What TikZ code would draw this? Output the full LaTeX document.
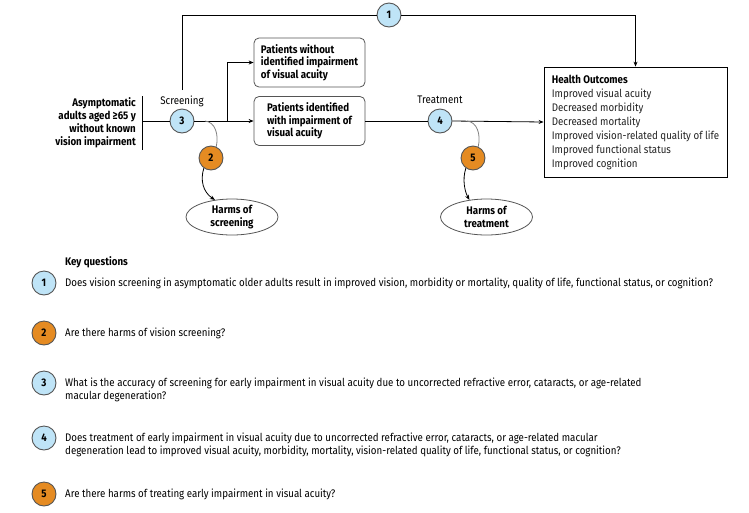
\documentclass[tikz,border=0pt]{standalone}
\usepackage{fontspec}
\setmainfont{Fira Sans}[FakeStretch=0.885]
\usetikzlibrary{arrows.meta,shapes.geometric}
\definecolor{kqblue}{HTML}{BFE4F7}
\definecolor{kqorange}{HTML}{E58B22}
\definecolor{bordergray}{HTML}{555555}
\definecolor{txtgray}{HTML}{222222}
\begin{document}
\begin{tikzpicture}[x=1pt,y=-1pt,
  font=\fontsize{11}{13}\selectfont,
  kq/.style={circle,draw=bordergray,line width=0.9pt,minimum size=24pt,inner sep=0pt,font=\fontsize{11}{12}\selectfont\bfseries},
  kqb/.style={kq,fill=kqblue},
  kqo/.style={kq,fill=kqorange},
  rbox/.style={draw=bordergray,rounded corners=5pt,line width=0.8pt,minimum width=111pt,minimum height=49pt,align=left,inner sep=0pt,font=\fontsize{11}{12.5}\selectfont\bfseries},
  harm/.style={ellipse,draw=bordergray,line width=0.8pt,minimum width=92pt,minimum height=36pt,inner sep=0pt,align=center,font=\fontsize{11}{12.5}\selectfont\bfseries},
  arr/.style={-{Stealth[length=5pt,width=4pt]}},
  conn/.style={line width=0.8pt},
  curvy/.style={draw=gray,line width=0.8pt},
  qtext/.style={anchor=west,align=left,inner sep=0pt,font=\fontsize{11}{13}\selectfont},
  lbl/.style={inner sep=0pt,font=\fontsize{11}{12}\selectfont}
]
\useasboundingbox (0,0) rectangle (749,512);

% nodes
\node[anchor=east,align=right,inner sep=0pt,font=\fontsize{11}{13}\selectfont\bfseries] (pop) at (136,122.5) {Asymptomatic\\adults aged ≥65 y\\without known\\vision impairment};
\node[kqb] (c3) at (182,121) {3};
\node[lbl] (scr) at (182,101) {Screening};
\node[kqo] (c2) at (211,158) {2};
\node[kqb] (c1) at (389,15) {1};
\node[rbox] (pwo) at (309.5,62.5) {Patients without\\identified impairment\\of visual acuity};
\node[rbox] (pid) at (309.5,121) {Patients identified\\with impairment of\\visual acuity};
\node[kqb] (c4) at (440,121) {4};
\node[lbl] (trt) at (440,100) {Treatment};
\node[kqo] (c5) at (473,158) {5};
\node[draw=black,line width=0.8pt,minimum width=183pt,minimum height=110pt,align=left,inner sep=0pt,font=\fontsize{11}{14}\selectfont] (ho) at (635.5,122)
  {\textbf{Health Outcomes}\\\color{txtgray}Improved visual acuity\\\color{txtgray}Decreased morbidity\\\color{txtgray}Decreased mortality\\\color{txtgray}Improved vision-related quality of life\\\color{txtgray}Improved functional status\\\color{txtgray}Improved cognition};
\node[harm] (hs) at (232,217) {Harms of\\screening};
\node[harm] (ht) at (486.5,217) {Harms of\\treatment};

% coordinates
\coordinate (barT) at (142,96);
\coordinate (barB) at (142,150);
\coordinate (bar) at (142,121);
\coordinate (top0) at (182,90);
\coordinate (br) at (227,121);
\coordinate (s3) at (205,121);
\coordinate (s4) at (467,121);

% connectors
\draw[conn] (barT) -- (barB);
\draw[conn] (bar) -- (c3.west);
\draw[conn,arr] (c3.east) -- (pid.west);
\draw[conn,arr] (br) |- (pwo.west);
\draw[conn] (top0) |- (c1.west);
\draw[conn,arr] (c1.east) -| (ho.north);
\draw[conn] (pid.east) -- (c4.west);
\draw[conn,arr] (c4.east) -- (ho.west);
\draw[curvy] (s3) .. controls (215,122) and (219,134) .. (c2.65);
\draw[curvy,arr,draw=black] (c2.235) .. controls (200,180) and (203,192) .. (hs.135);
\draw[curvy] (s4) .. controls (477,122) and (481,134) .. (c5.65);
\draw[curvy,arr,draw=black] (c5.235) .. controls (462,180) and (465,192) .. (ht.135);

% key questions
\node[anchor=west,inner sep=0pt,font=\fontsize{11}{13}\selectfont\bfseries] (kqt) at (65,262) {Key questions};
\node[kqb] (k1) at (44,283) {1};
\node[qtext] (q1) at (65,283) {Does vision screening in asymptomatic older adults result in improved vision, morbidity or mortality, quality of life, functional status, or cognition?};
\node[kqo] (k2) at (44,333) {2};
\node[qtext] (q2) at (65,333) {Are there harms of vision screening?};
\node[kqb] (k3) at (44,383) {3};
\node[qtext] (q3) at (65,389.5) {What is the accuracy of screening for early impairment in visual acuity due to uncorrected refractive error, cataracts, or age-related\\macular degeneration?};
\node[kqb] (k4) at (44,438) {4};
\node[qtext] (q4) at (65,444.5) {Does treatment of early impairment in visual acuity due to uncorrected refractive error, cataracts, or age-related macular\\degeneration lead to improved visual acuity, morbidity, mortality, vision-related quality of life, functional status, or cognition?};
\node[kqo] (k5) at (44,494) {5};
\node[qtext] (q5) at (65,494) {Are there harms of treating early impairment in visual acuity?};
\end{tikzpicture}
\end{document}
